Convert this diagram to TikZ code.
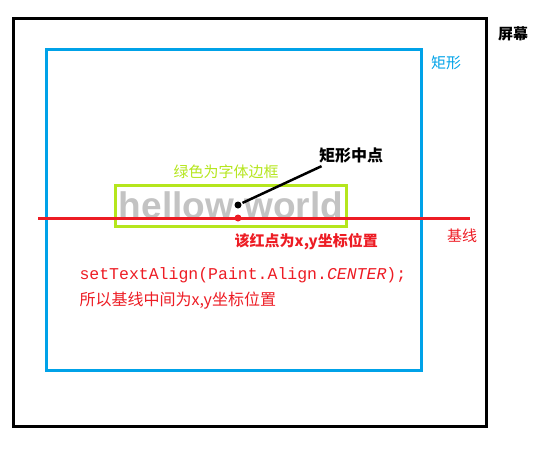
\documentclass[tikz,border=0pt]{standalone}
\usepackage{fontspec}
\setmainfont{Liberation Sans}
\newfontfamily\cjk{Noto Sans CJK SC}
\newfontfamily\codefont{Liberation Mono}
\definecolor{scrblue}{RGB}{0,162,232}
\definecolor{scrred}{RGB}{237,28,36}
\definecolor{scrgreen}{RGB}{181,230,29}
\definecolor{scrgray}{RGB}{195,195,195}

\begin{document}
\begin{tikzpicture}[x=1pt, y=-1pt, line width=3pt,
		lbl/.style = {inner sep=0pt, font=\cjk\fontsize{15}{15}\selectfont},
		dot/.style = {circle, fill, inner sep=0pt, minimum size=7pt}]
		\useasboundingbox (0,0) rectangle (551,459);
		%Screen and rectangle
		\draw (13.5,18.5) rectangle (486.5,426.5);
		\draw[scrblue] (46.5,49.5) rectangle (421.5,370.5);
		\node[lbl, font=\cjk\bfseries\fontsize{15}{15}\selectfont] (screen) at (513,34) {屏幕};
		\node[lbl, scrblue] (rect) at (446,63) {矩形};
		
		%Text with its frame
		\node[anchor=base, inner sep=0pt, scrgray, font=\bfseries\fontsize{37}{37}\selectfont] (text) at (231,218) {hellow world};
		\draw[scrgreen] (115,185) rectangle (346,226);
		\node[lbl, scrgreen] (framelbl) at (226,172) {绿色为字体边框};
		
		%Baseline
		\coordinate (b1) at (38,218);
		\coordinate (b2) at (470,218);
		\draw[scrred] (b1) -- (b2);
		\node[lbl, scrred] (baselbl) at (462,236) {基线};
		
		%Points
		\node[dot, black] (mid) at (238,205) {};
		\node[dot, scrred] (xy) at (238,218) {};
		\node[lbl, font=\cjk\bfseries\fontsize{16}{16}\selectfont] (midlbl) at (351,155) {矩形中点};
		\draw[line width=2.5pt] (mid) -- ([xshift=4pt,yshift=-2pt]midlbl.south west);
		\node[lbl, anchor=west, scrred, font=\cjk\bfseries\fontsize{15}{15}\selectfont] (xylbl) at (233,242) {该红点为x,y坐标位置};
		
		%Explanation
		\node[lbl, anchor=west, scrred, font=\codefont\fontsize{16.5}{16.5}\selectfont] (code) at (78,275) {setTextAlign(Paint.Align.\textit{CENTER});};
		\node[lbl, anchor=west, scrred, font=\cjk\fontsize{16}{16}\selectfont] (note) at (78,301) {所以基线中间为x,y坐标位置};
	\end{tikzpicture}
\end{document}
